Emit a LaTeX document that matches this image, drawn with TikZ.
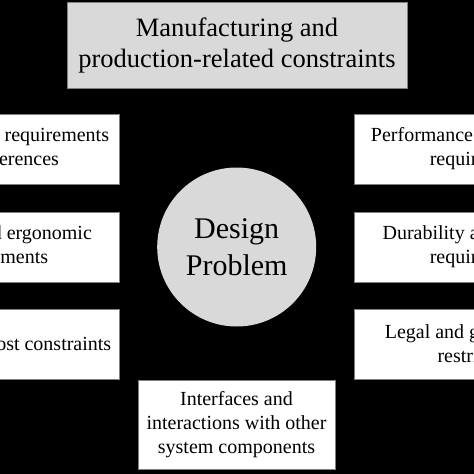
\documentclass[tikz,border=0pt]{standalone}
\usepackage{fontspec}
\setmainfont{Liberation Serif}
\begin{document}
\begin{tikzpicture}[x=1pt, y=-1pt,
	sidebox/.style={draw=gray, fill=white, minimum height=70pt, align=center, font=\fontsize{20}{24}\selectfont},
	leftbox/.style={sidebox, minimum width=246pt},
	rightbox/.style={sidebox, minimum width=256pt},
	topbox/.style={draw=gray, fill=black!15, minimum width=340pt, minimum height=86pt, align=center, font=\fontsize{26.5}{31}\selectfont},
	bottombox/.style={draw=gray, fill=white, minimum width=197pt, minimum height=89pt, align=center, font=\fontsize{20}{24}\selectfont},
	core/.style={circle, fill=black!15, minimum size=159pt, inner sep=0pt, align=center, font=\fontsize{30}{37}\selectfont}]

	\useasboundingbox (0,0) rectangle (474,474);
	\clip (0,0) rectangle (474,474);
	\fill [black] (0,0) rectangle (474,474);

	\node[topbox] (manuf) at (237,45) {Manufacturing and\\production-related constraints};
	\node[core] (design) at (236.7,247) {Design\\Problem};

	% left column
	\node[leftbox] (user) at (-4,149) {Customer/user requirements\\and preferences};
	\node[leftbox] (ergo) at (-4,247) {Physical and ergonomic\\requirements};
	\node[leftbox] (cost) at (-4,344) {Material and cost constraints};

	% right column
	\node[rightbox] (perf) at (482,149) {Performance and functional\\requirements};
	\node[rightbox] (dura) at (482,247) {Durability and reliability\\requirements};
	\node[rightbox] (legal) at (482,344) {Legal and governmental\\restrictions};

	\node[bottombox] (iface) at (236.5,424.5) {Interfaces and\\interactions with other\\system components};

\end{tikzpicture}
\end{document}
